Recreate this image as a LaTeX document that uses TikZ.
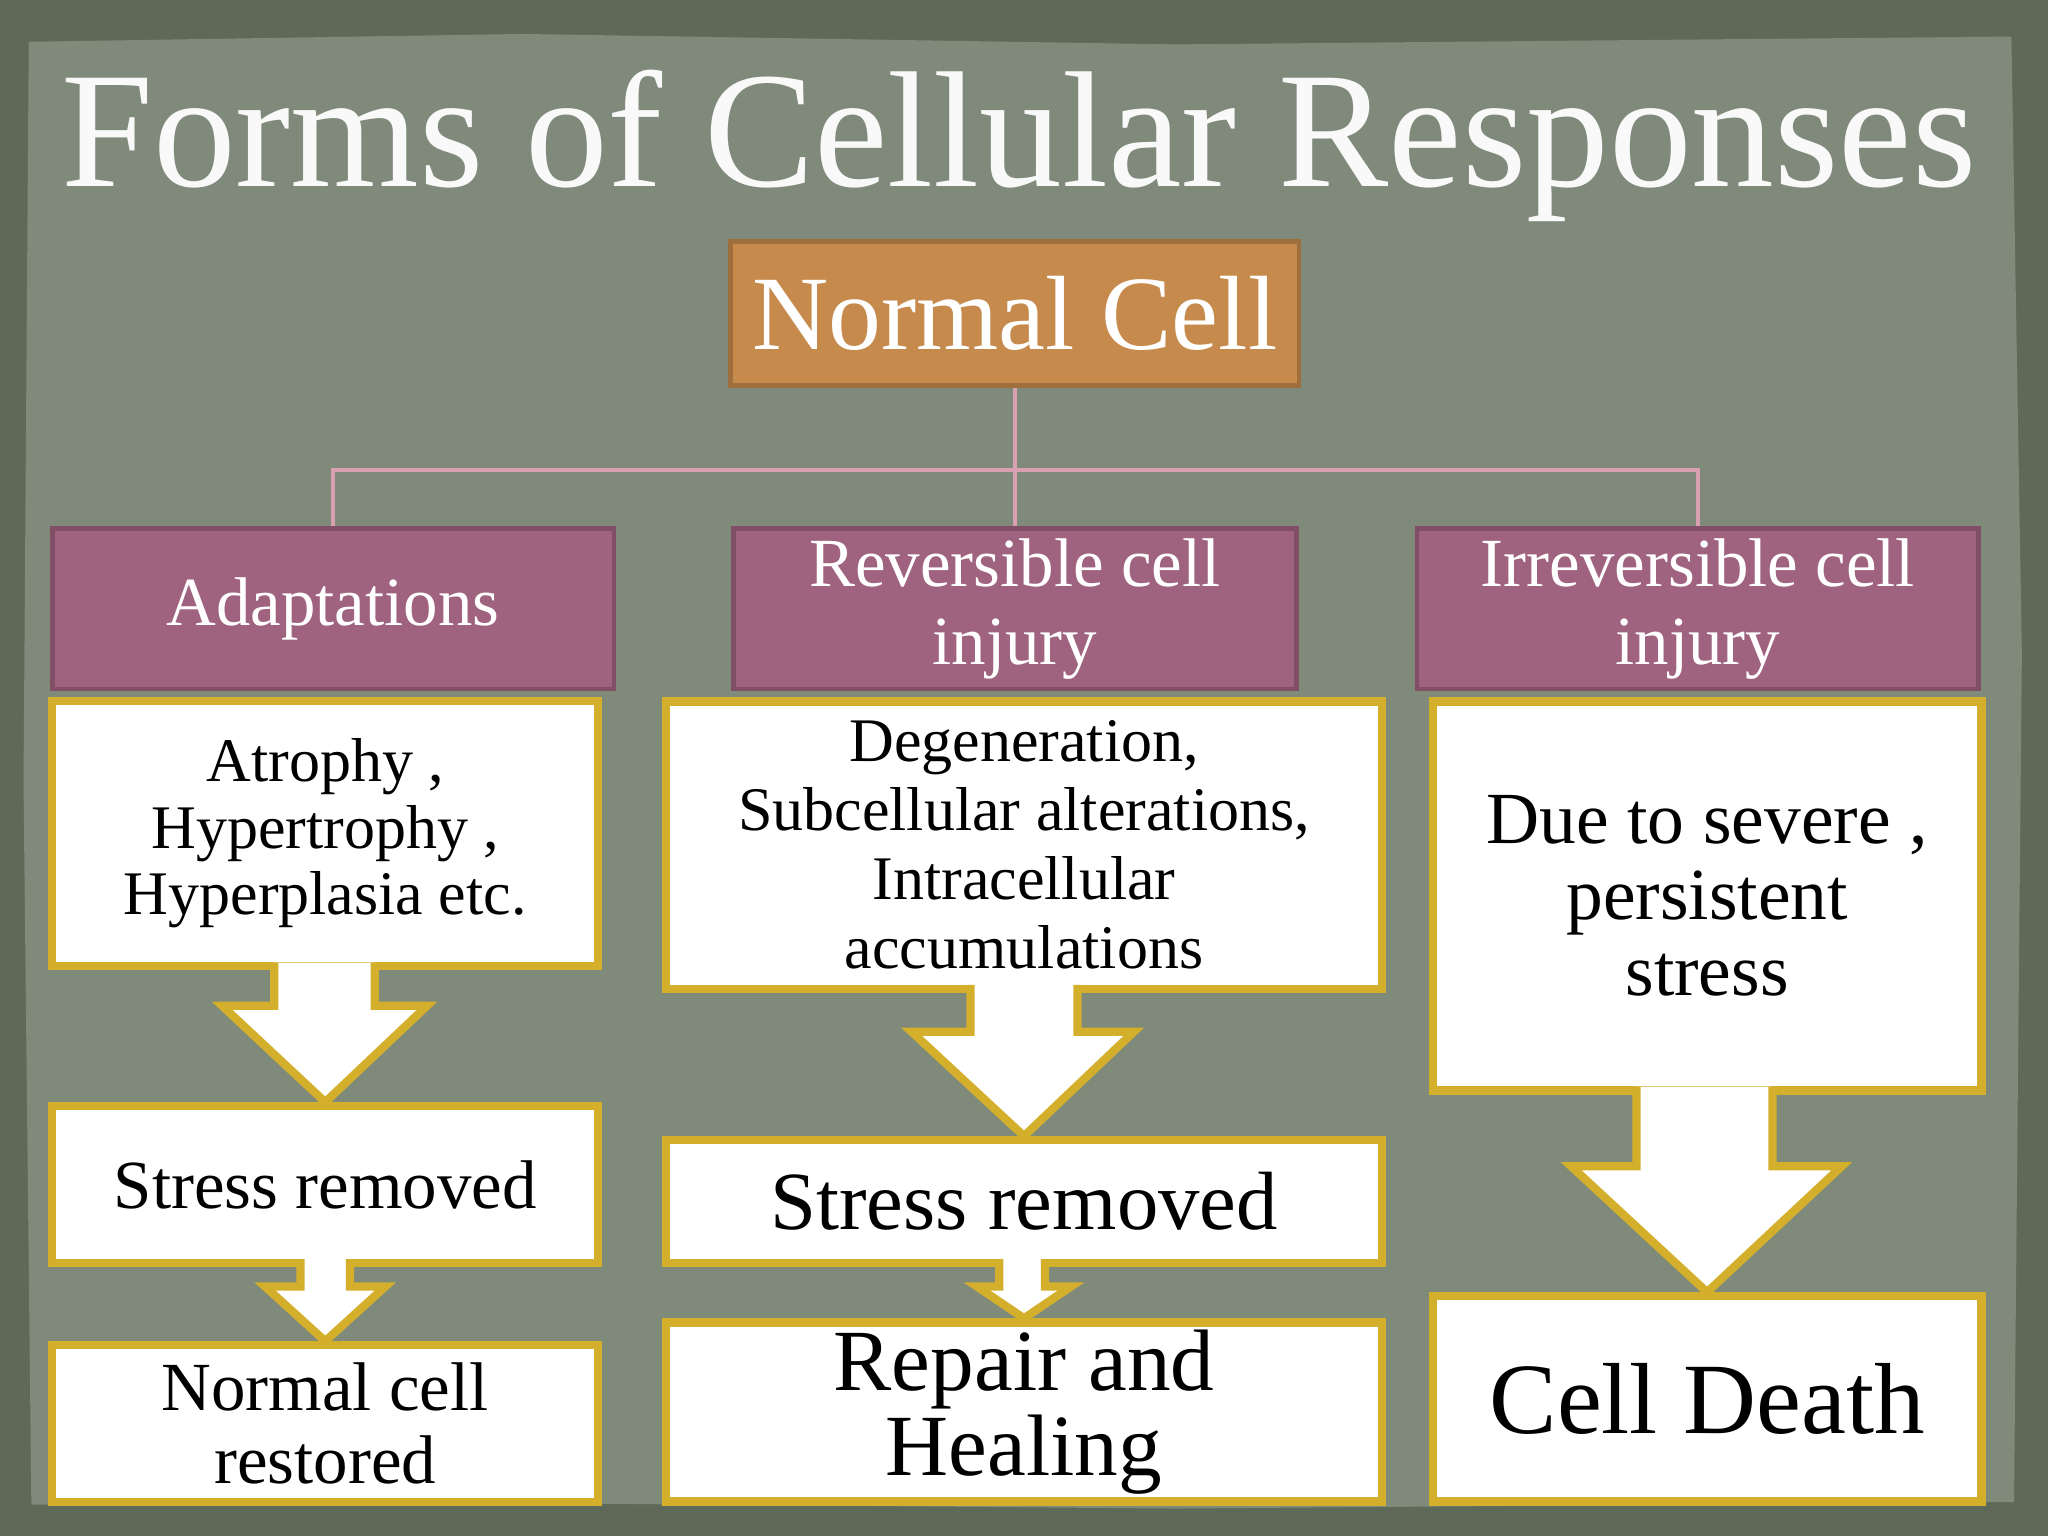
\documentclass[tikz,border=0pt]{standalone}
\usepackage{fontspec}
\setmainfont{Liberation Serif}
\begin{document}
\begin{tikzpicture}[x=0.01cm,y=-0.01cm,
 purple/.style={fill=pbox,draw=pbox!80!black,line width=1pt,minimum height=123*0.01cm,text=white,align=center,inner sep=0pt},
 wbox/.style={fill=white,draw=gold,line width=1.8pt,align=center,inner sep=0pt},
 arr/.style={fill=white,draw=gold,line width=1.8pt,line join=miter},
 link/.style={draw=linkc,line width=0.8pt}]
\definecolor{bgout}{HTML}{5E6957}
\definecolor{bgin}{HTML}{7F8A7B}
\definecolor{pbox}{HTML}{A0637F}
\definecolor{obox}{HTML}{C68A4C}
\definecolor{gold}{HTML}{D4AF2C}
\definecolor{linkc}{HTML}{D9A0B2}
\useasboundingbox (0,0) rectangle (1568,1176);
\fill[bgout] (0,0) rectangle (1568,1176);
\fill[bgin] (22,32) -- (400,26) -- (900,34) -- (1540,28) -- (1548,500) -- (1542,1150) -- (900,1155) -- (300,1150) -- (24,1152) -- (18,600) -- cycle;
\node[text=white!95!gray,font=\fontsize{36}{40}\selectfont] (title) at (780,112) {Forms of Cellular Responses};
\node[fill=obox,draw=obox!80!black,line width=1pt,minimum width=435*0.01cm,minimum height=110*0.01cm,text=white,font=\fontsize{23}{26}\selectfont] (normal) at (777,240) {Normal Cell};
\node[purple,minimum width=430*0.01cm,font=\fontsize{15}{18}\selectfont] (adapt) at (255,466) {Adaptations};
\node[purple,minimum width=431*0.01cm,font=\fontsize{15}{17}\selectfont] (rev) at (777,466) {Reversible cell\\injury};
\node[purple,minimum width=430*0.01cm,font=\fontsize{15}{17}\selectfont] (irr) at (1300,466) {Irreversible cell\\injury};
\coordinate (hub) at (777,360);
\draw[link] (normal.south) -- (hub);
\draw[link] (adapt.north) |- (hub) -| (irr.north);
\draw[link] (hub) -- (rev.north);
% boxes
\node[wbox,minimum width=418*0.01cm,minimum height=203*0.01cm,font=\fontsize{13.5}{14.5}\selectfont] (atro) at (249,638) {Atrophy ,\\ Hypertrophy ,\\Hyperplasia etc.};
\node[wbox,minimum width=418*0.01cm,minimum height=120*0.01cm,font=\fontsize{15}{17}\selectfont] (sr1) at (249,907) {Stress removed};
\node[wbox,minimum width=418*0.01cm,minimum height=120*0.01cm,font=\fontsize{15}{16}\selectfont] (nc) at (249,1090) {Normal cell\\restored};
\node[wbox,minimum width=548*0.01cm,minimum height=220*0.01cm,font=\fontsize{13.5}{15}\selectfont] (deg) at (784,647) {Degeneration,\\Subcellular alterations,\\Intracellular\\accumulations};
\node[wbox,minimum width=548*0.01cm,minimum height=94*0.01cm,font=\fontsize{18}{20}\selectfont] (sr2) at (784,920) {Stress removed};
\node[wbox,minimum width=548*0.01cm,minimum height=137*0.01cm,font=\fontsize{19}{18.5}\selectfont] (rep) at (784,1081) {Repair and\\Healing};
\node[wbox,minimum width=420*0.01cm,minimum height=298*0.01cm,font=\fontsize{16}{16.5}\selectfont] (due) at (1307,686) {Due to severe ,\\persistent\\stress};
\node[wbox,minimum width=420*0.01cm,minimum height=157*0.01cm,font=\fontsize{22}{24}\selectfont] (death) at (1307,1071) {Cell Death};
% arrows
\draw[arr] (210,737) -- (210,770) -- (170,770) -- (sr1.north) -- (327,770) -- (287,770) -- (287,737);
\draw[arr] (230,964) -- (230,985) -- (203,985) -- (nc.north) -- (295,985) -- (268,985) -- (268,964);
\draw[arr] (743,754) -- (743,790) -- (698,790) -- (sr2.north) -- (868,790) -- (825,790) -- (825,754);
\draw[arr] (765,964) -- (765,985) -- (748,985) -- (rep.north) -- (820,985) -- (800,985) -- (800,964);
\draw[arr] (1253,832) -- (1253,893) -- (1203,893) -- (death.north) -- (1410,893) -- (1357,893) -- (1357,832);
\end{tikzpicture}
\end{document}
